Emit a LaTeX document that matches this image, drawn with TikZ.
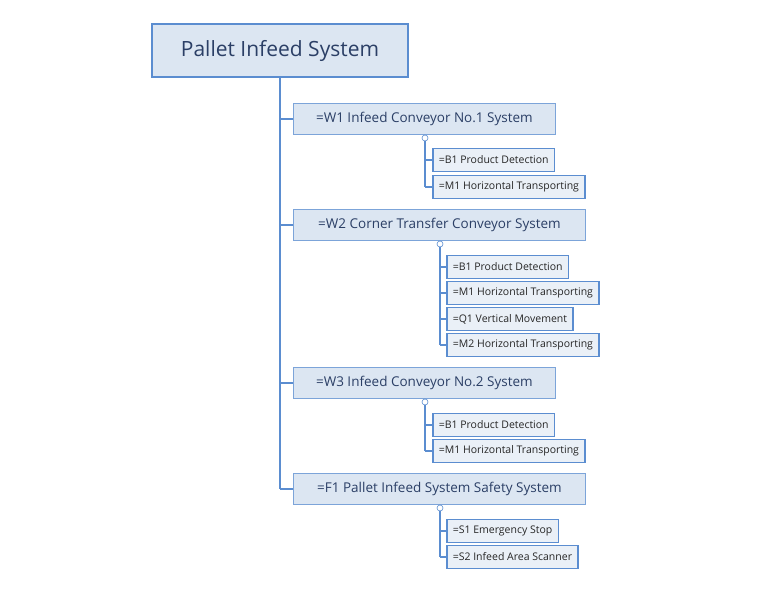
\documentclass[tikz,border=0pt]{standalone}
\usepackage{fontspec}
\setmainfont{Open Sans}
\definecolor{ln}{HTML}{5B8DD0}
\definecolor{fl}{HTML}{DCE6F2}
\definecolor{tx}{HTML}{2B3F66}
\begin{document}
\begin{tikzpicture}[x=1pt,y=-1pt,
  root/.style={draw=ln,line width=2.2pt,fill=fl,text=tx,minimum height=53pt,minimum width=256pt,font=\fontsize{21}{24}\selectfont,inner sep=0pt},
  mid/.style={draw=ln!80,line width=0.8pt,fill=fl,text=tx,anchor=west,minimum height=31pt,font=\fontsize{13.5}{16}\selectfont,inner xsep=9pt},
  leaf/.style={draw=ln,line width=1.6pt,fill=fl!60,text=black!85,anchor=west,minimum height=23pt,font=\fontsize{10.5}{12}\selectfont,inner xsep=6pt},
  con/.style={draw=ln,line width=1.4pt},
  dot/.style={circle,draw=ln,fill=white,inner sep=0pt,minimum size=6pt,line width=0.6pt}]
\useasboundingbox (0,0) rectangle (768,594);
\node[root] (r) at (280,50.5) {Pallet Infeed System};
\node[mid,minimum width=262pt] (w1) at (293,119) {=W1 Infeed Conveyor No.1 System};
\node[mid,minimum width=292pt] (w2) at (293,225) {=W2 Corner Transfer Conveyor System};
\node[mid,minimum width=262pt] (w3) at (293,383) {=W3 Infeed Conveyor No.2 System};
\node[mid,minimum width=292pt] (f1) at (293,489) {=F1 Pallet Infeed System Safety System};
\coordinate (sp) at (280,489);
\draw[con] (r.south) -- (sp);
\foreach \n in {w1,w2,w3,f1} \draw[con] (\n.west) -- (\n.west -| sp);
% W1 group
\node[leaf] (a1) at (432,160) {=B1 Product Detection};
\node[leaf] (a2) at (432,187) {=M1 Horizontal Transporting};
\coordinate (ca) at (425,138);
\draw[con] (ca) -- (ca |- a2.west);
\foreach \n in {a1,a2} \draw[con] (\n.west) -- (\n.west -| ca);
\node[dot] at (ca) {};
% W2 group
\node[leaf] (b1) at (446,267) {=B1 Product Detection};
\node[leaf] (b2) at (446,293) {=M1 Horizontal Transporting};
\node[leaf] (b3) at (446,319) {=Q1 Vertical Movement};
\node[leaf] (b4) at (446,345) {=M2 Horizontal Transporting};
\coordinate (cb) at (440,244);
\draw[con] (cb) -- (cb |- b4.west);
\foreach \n in {b1,b2,b3,b4} \draw[con] (\n.west) -- (\n.west -| cb);
\node[dot] at (cb) {};
% W3 group
\node[leaf] (c1) at (432,425) {=B1 Product Detection};
\node[leaf] (c2) at (432,451) {=M1 Horizontal Transporting};
\coordinate (cc) at (425,402);
\draw[con] (cc) -- (cc |- c2.west);
\foreach \n in {c1,c2} \draw[con] (\n.west) -- (\n.west -| cc);
\node[dot] at (cc) {};
% F1 group
\node[leaf] (d1) at (446,531) {=S1 Emergency Stop};
\node[leaf] (d2) at (446,557) {=S2 Infeed Area Scanner};
\coordinate (cd) at (440,508);
\draw[con] (cd) -- (cd |- d2.west);
\foreach \n in {d1,d2} \draw[con] (\n.west) -- (\n.west -| cd);
\node[dot] at (cd) {};
\end{tikzpicture}
\end{document}
